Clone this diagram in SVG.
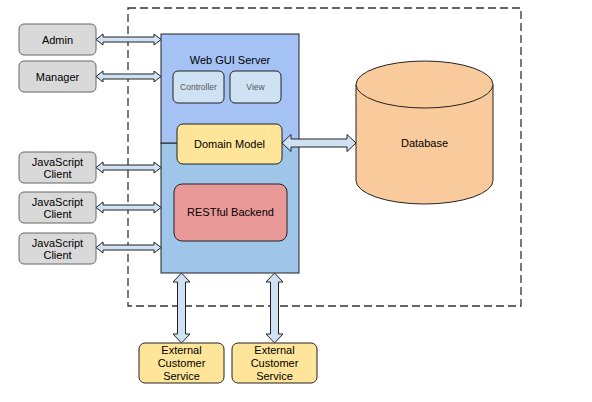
<svg xmlns="http://www.w3.org/2000/svg" width="592" height="402" viewBox="0 0 592 402">
<style>
text{font-family:"Liberation Sans",Arial,sans-serif;font-size:11px;fill:#000;text-anchor:middle}
.client{fill:#d9d9d9;stroke:#666;stroke-width:1}
.sub{fill:#cfe2f3;stroke:#222;stroke-width:1}
.arrow{fill:#cfe2f3;stroke:#222;stroke-width:1;stroke-linejoin:miter}
.ext{fill:#ffe599;stroke:#222;stroke-width:1}
.small{font-size:8.5px;fill:#555}
</style>
<rect width="592" height="402" fill="#fff"/>
<rect id="boundary" x="128" y="8" width="393" height="298" fill="none" stroke="#333" stroke-width="1.3" stroke-dasharray="8,4"/>
<g id="server">
<rect x="161" y="143" width="138" height="130" fill="#9fc5e8" stroke="#222"/>
<rect x="161" y="34" width="138" height="109" fill="#a4c2f4" stroke="#222"/>
<text x="230" y="64">Web GUI Server</text>
</g>
<g id="controller"><rect class="sub" x="173" y="71" width="51" height="32" rx="5"/><text class="small" x="198.5" y="90">Controller</text></g>
<g id="view"><rect class="sub" x="230" y="71" width="51" height="32" rx="5"/><text class="small" x="255.5" y="90">View</text></g>
<g id="domain"><rect x="177" y="124" width="105" height="40" rx="6" fill="#ffe599" stroke="#222"/><text x="229.5" y="148">Domain Model</text></g>
<g id="restful"><rect x="174" y="184" width="113" height="57" rx="8" fill="#ea9999" stroke="#222"/><text x="230.5" y="216">RESTful Backend</text></g>
<g id="database">
<path d="M356 84.5 V180.5 A68.5 23.5 0 0 0 493 180.5 V84.5" fill="#f9cb9c" stroke="#222"/>
<ellipse cx="424.5" cy="84.5" rx="68.5" ry="23.5" fill="#f9cb9c" stroke="#222"/>
<text x="424.5" y="147">Database</text>
</g>
<g id="admin"><rect class="client" x="19" y="24" width="77" height="31" rx="5"/><text x="57.5" y="43.5">Admin</text></g>
<g id="manager"><rect class="client" x="19" y="61" width="77" height="31" rx="5"/><text x="57.5" y="80.5">Manager</text></g>
<g id="js1"><rect class="client" x="19" y="152" width="77" height="31" rx="5"/><text x="57.5" y="165.5">JavaScript</text><text x="57.5" y="178">Client</text></g>
<g id="js2"><rect class="client" x="19" y="192" width="77" height="31" rx="5"/><text x="57.5" y="205.5">JavaScript</text><text x="57.5" y="218">Client</text></g>
<g id="js3"><rect class="client" x="19" y="233" width="77" height="31" rx="5"/><text x="57.5" y="246.5">JavaScript</text><text x="57.5" y="259">Client</text></g>
<g id="ext1"><rect class="ext" x="139" y="343" width="85" height="40" rx="6"/><text x="181.5" y="354">External</text><text x="181.5" y="367">Customer</text><text x="181.5" y="380">Service</text></g>
<g id="ext2"><rect class="ext" x="232" y="343" width="85" height="40" rx="6"/><text x="274.5" y="354">External</text><text x="274.5" y="367">Customer</text><text x="274.5" y="380">Service</text></g>
<g id="connectors">
<path class="arrow" d="M96 39.5 L103 34 L103 37 L154 37 L154 34 L161 39.5 L154 45 L154 42 L103 42 L103 45 Z"/>
<path class="arrow" d="M96 76.5 L103 71 L103 74 L154 74 L154 71 L161 76.5 L154 82 L154 79 L103 79 L103 82 Z"/>
<path class="arrow" d="M96 167.5 L103 162 L103 165 L154 165 L154 162 L161 167.5 L154 173 L154 170 L103 170 L103 173 Z"/>
<path class="arrow" d="M96 207.5 L103 202 L103 205 L154 205 L154 202 L161 207.5 L154 213 L154 210 L103 210 L103 213 Z"/>
<path class="arrow" d="M96 247.5 L103 242 L103 245 L154 245 L154 242 L161 247.5 L154 253 L154 250 L103 250 L103 253 Z"/>
<path class="arrow" d="M282 143 L291 134.5 L291 139 L347 139 L347 134.5 L356 143 L347 151.5 L347 147 L291 147 L291 151.5 Z"/>
<path class="arrow" d="M181.5 273 L190 282 L185.5 282 L185.5 334 L190 334 L181.5 343 L173 334 L177.5 334 L177.5 282 L173 282 Z"/>
<path class="arrow" d="M274.5 273 L283 282 L278.5 282 L278.5 334 L283 334 L274.5 343 L266 334 L270.5 334 L270.5 282 L266 282 Z"/>
</g>
</svg>
